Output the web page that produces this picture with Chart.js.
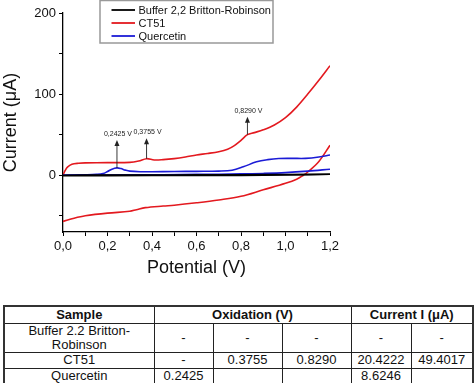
<!DOCTYPE html>
<html>
<head>
<meta charset="utf-8">
<script src="https://cdn.jsdelivr.net/npm/chart.js@4/dist/chart.umd.min.js"></script>
<style>
  body { margin: 0; background: #fff; width: 474px; height: 383px; overflow: hidden; position: relative; }
  #wrap { position: absolute; left: 0; top: 0; width: 474px; height: 300px; }
  table {
    position: absolute; left: 3px; top: 305px; width: 469px;
    border-collapse: collapse; table-layout: fixed;
    font-family: "Liberation Sans", Arial, sans-serif; font-size: 13px; line-height: 14px;
    border: 2px solid #333; color: #111;
  }
  td, th { border: 1px solid #222; padding: 0; text-align: center; vertical-align: middle; }
  th { font-weight: bold; }
</style>
</head>
<body>
<div id="wrap"><canvas id="myChart" width="474" height="300"></canvas></div>
<table id="tbl"></table>

<script>
// CV curves, forward and reverse scan kept apart (both sorted by potential)
const bufferFwdV = [0, 0.2, 0.4, 0.6, 0.8, 1.0, 1.2];
const bufferFwdI = [0, 0.2, 0.3, 0.4, 0.6, 0.8, 1.2];
const bufferRevV = [0, 0.4, 0.8, 1.0, 1.2];
const bufferRevI = [-0.6, -0.4, -0.2, 0.2, 1.2];

const ct51FwdV = [0, 0.01, 0.02, 0.04, 0.07, 0.1, 0.2, 0.3, 0.34, 0.3755, 0.41, 0.45, 0.5, 0.55, 0.6, 0.65, 0.7, 0.74, 0.77, 0.8, 0.829, 0.86, 0.9, 0.95, 1.0, 1.05, 1.1, 1.15, 1.2];
const ct51FwdI = [0, 6, 10, 13.5, 14.8, 15.2, 15.5, 15.8, 17.5, 20.4, 18.8, 19.2, 20.5, 22.5, 25, 26.8, 29, 32, 36.5, 43, 50, 52.5, 56, 62, 71, 84, 100, 117, 135];
const ct51RevV = [0, 0.05, 0.1, 0.2, 0.3, 0.33, 0.37, 0.45, 0.5, 0.6, 0.7, 0.8, 0.9, 1.0, 1.05, 1.08, 1.1, 1.15, 1.2];
const ct51RevI = [-57, -53, -50, -46.7, -44.5, -42.5, -40, -38, -37, -34, -30.5, -26, -18, -10, -5, 0, 4, 17, 37];

const querFwdV = [0, 0.05, 0.1, 0.15, 0.18, 0.2, 0.22, 0.2425, 0.26, 0.28, 0.3, 0.35, 0.4, 0.5, 0.6, 0.7, 0.76, 0.81, 0.87, 0.92, 0.97, 1.03, 1.09, 1.15, 1.2];
const querFwdI = [0, 0.3, 0.5, 1.0, 2.0, 4.5, 7.5, 9.0, 8.2, 6.3, 5.0, 4.3, 4.3, 4.6, 4.8, 5.1, 6.2, 10.3, 16.5, 19.2, 20.6, 20.8, 20.8, 22.5, 25];
const querRevV = [0, 0.3, 0.6, 0.8, 0.9, 1.0, 1.1, 1.2];
const querRevI = [0, 0.4, 1.0, 1.6, 2.2, 3.2, 5.0, 7.4];

const seriesNames = ["Buffer 2,2 Britton-Robinson", "CT51", "Quercetin"];
const seriesColors = ["#000000", "#e3191f", "#1b1bd6"];

// peak markers
const peakV = [0.2425, 0.3755, 0.8290];
const peakBase = [9, 20.4, 50];
const peakTip = [43.5, 45.5, 72];
const peakLabels = ["0,2425 V", "0,3755 V", "0,8290 V"];

// table
const tableHead = ["Sample", "Oxidation (V)", "Current I (μA)"];
const tableSamples = ["Buffer 2.2 Britton-Robinson", "CT51", "Quercetin"];
const tableOxidation = [["-", "-", "-"], ["-", "0.3755", "0.8290"], ["0.2425", "", ""]];
const tableCurrent = [["-", "-"], ["20.4222", "49.4017"], ["8.6246", ""]];

const FONT = '"Liberation Sans", Arial, sans-serif';

function pts(xs, ys) {
  return xs.map((x, i) => ({ x: x, y: ys[i] }));
}

function makeSet(label, color, xs, ys, legend) {
  return {
    label: label,
    data: pts(xs, ys),
    showLine: true,
    borderColor: color,
    backgroundColor: color,
    borderWidth: 1.6,
    pointRadius: 0,
    tension: 0.35,
    fill: false,
    inLegend: legend,
  };
}

let datasets = [
  makeSet(seriesNames[0], seriesColors[0], bufferFwdV, bufferFwdI, true),
  makeSet(seriesNames[0], seriesColors[0], bufferRevV, bufferRevI, false),
  makeSet(seriesNames[2], seriesColors[2], querFwdV, querFwdI, true),
  makeSet(seriesNames[2], seriesColors[2], querRevV, querRevI, false),
  makeSet(seriesNames[1], seriesColors[1], ct51FwdV, ct51FwdI, true),
  makeSet(seriesNames[1], seriesColors[1], ct51RevV, ct51RevI, false),
];

// arrows + labels for the oxidation peaks
const peakPlugin = {
  id: "peaks",
  afterDatasetsDraw(chart) {
    const ctx = chart.ctx;
    const xs = chart.scales.x, ys = chart.scales.y;
    ctx.save();
    ctx.strokeStyle = "#222";
    ctx.fillStyle = "#222";
    ctx.lineWidth = 0.9;
    peakV.forEach((v, i) => {
      let px = xs.getPixelForValue(v);
      let yb = ys.getPixelForValue(peakBase[i]);
      let yt = ys.getPixelForValue(peakTip[i]);
      ctx.beginPath();
      ctx.moveTo(px, yb);
      ctx.lineTo(px, yt + 4);
      ctx.stroke();
      ctx.beginPath();
      ctx.moveTo(px, yt);
      ctx.lineTo(px - 2.5, yt + 6);
      ctx.lineTo(px + 2.5, yt + 6);
      ctx.closePath();
      ctx.fill();
      ctx.font = "7px " + FONT;
      ctx.textAlign = "center";
      ctx.textBaseline = "middle";
      ctx.fillText(peakLabels[i], px + 1, yt - 6);
    });
    ctx.restore();
  },
};

// boxed legend in the top of the plot, one line per sample
const boxLegend = {
  id: "boxLegend",
  afterDraw(chart) {
    const ctx = chart.ctx;
    let items = chart.data.datasets.filter((d) => d.inLegend);
    // keep legend order buffer, CT51, quercetin
    items.sort((a, b) => seriesNames.indexOf(a.label) - seriesNames.indexOf(b.label));
    ctx.save();
    ctx.fillStyle = "#fff";
    ctx.fillRect(100, 0.5, 173, 42.5);
    ctx.strokeStyle = "#999";
    ctx.lineWidth = 1.5;
    ctx.strokeRect(100, 0.5, 173, 42.5);
    ctx.font = "11px " + FONT;
    ctx.textBaseline = "middle";
    ctx.textAlign = "left";
    items.forEach((d, i) => {
      let yy = 10 + i * 13;
      ctx.strokeStyle = d.borderColor;
      ctx.lineWidth = 1.8;
      ctx.beginPath();
      ctx.moveTo(111.5, yy);
      ctx.lineTo(135, yy);
      ctx.stroke();
      ctx.fillStyle = "#111";
      ctx.fillText(d.label, 138.5, yy + 0.5);
    });
    ctx.restore();
  },
};

function drawMainChart() {
  let config = {
    type: "scatter",
    data: { datasets: datasets },
    options: {
      responsive: false,
      animation: false,
      devicePixelRatio: 1,
      layout: { padding: { top: 13, right: 144, left: 0, bottom: 0 } },
      plugins: { legend: { display: false }, tooltip: { enabled: false } },
      scales: {
        x: {
          type: "linear",
          min: 0,
          max: 1.2,
          afterFit: (s) => { s.height = 68; },
          ticks: {
            stepSize: 0.1,
            color: "#111",
            padding: 3,
            maxRotation: 0,
            autoSkip: false,
            font: { family: FONT, size: 13 },
            callback: function (v) {
              let k = Math.round(v * 10);
              if (k % 2 !== 0) return "";
              return (k / 10).toFixed(1).replace(".", ",");
            },
          },
          grid: { drawOnChartArea: false, drawTicks: true, tickLength: 4, tickColor: "#000" },
          border: { display: true, color: "#000", width: 1.3 },
          title: {
            display: true,
            text: "Potential (V)",
            color: "#111",
            font: { family: FONT, size: 18 },
            padding: { top: 0, bottom: 21 },
          },
        },
        y: {
          type: "linear",
          min: -70,
          max: 200,
          afterFit: (s) => { s.width = 63; },
          afterBuildTicks: (s) => {
            s.ticks = s.ticks.filter((t) => t.value % 50 === 0);
          },
          ticks: {
            stepSize: 50,
            color: "#111",
            padding: 3,
            font: { family: FONT, size: 13 },
            callback: (v) => (v % 100 === 0 ? String(v) : ""),
          },
          grid: { drawOnChartArea: false, drawTicks: true, tickLength: 4, tickColor: "#000" },
          border: { display: true, color: "#000", width: 1.3 },
          title: {
            display: true,
            text: "Current (μA)",
            color: "#111",
            font: { family: FONT, size: 18 },
            padding: { top: 0, bottom: 0 },
          },
        },
      },
    },
    plugins: [peakPlugin, boxLegend],
  };
  new Chart(document.getElementById("myChart"), config);
}

function buildTable() {
  const t = document.getElementById("tbl");
  let html = "<colgroup>";
  [150, 59, 69, 69, 60, 62].forEach((w) => { html += '<col style="width:' + w + 'px">'; });
  html += "</colgroup>";
  html += '<tr style="height:17px"><th>' + tableHead[0] + '</th><th colspan="3">' + tableHead[1] +
    '</th><th colspan="2">' + tableHead[2] + "</th></tr>";
  const rowH = [29, 16, 15];
  tableSamples.forEach((s, i) => {
    html += '<tr style="height:' + rowH[i] + 'px"><td>' + s.replace("Britton-Robinson", "Britton-<br>Robinson") + "</td>";
    tableOxidation[i].forEach((v) => { html += "<td>" + v + "</td>"; });
    tableCurrent[i].forEach((v) => { html += "<td>" + v + "</td>"; });
    html += "</tr>";
  });
  t.innerHTML = html;
}

buildTable();
drawMainChart();
</script>
</body>
</html>
